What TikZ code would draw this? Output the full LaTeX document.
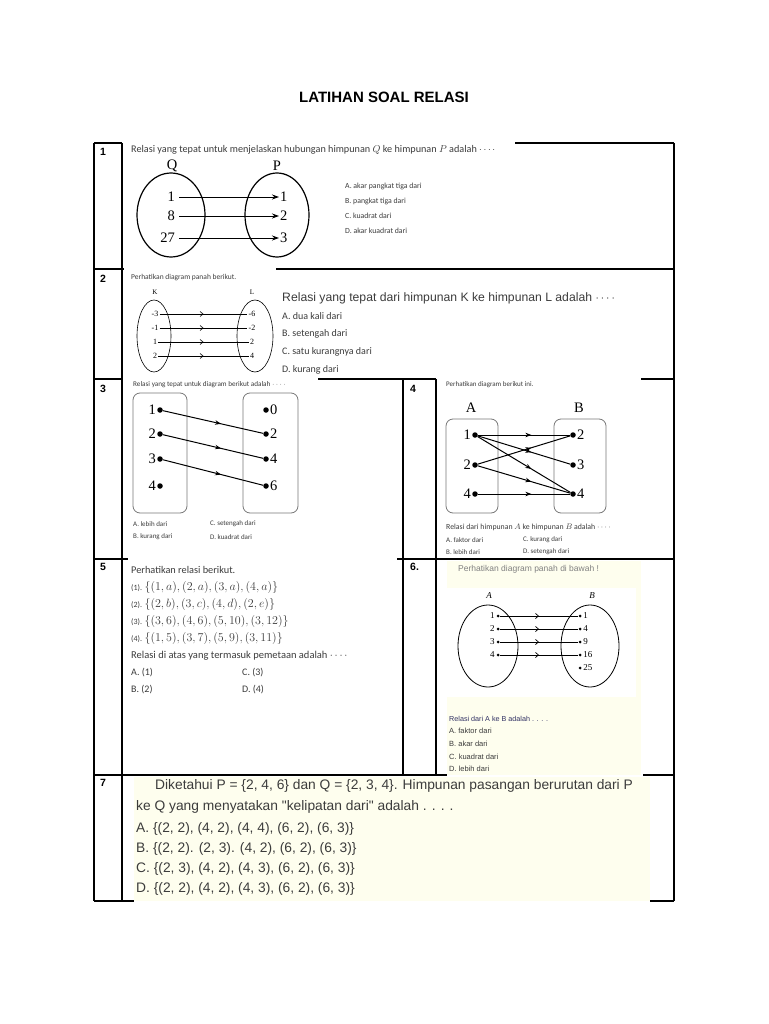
\documentclass[tikz,border=0pt]{standalone}
\usepackage{fontspec}
\setmainfont{Liberation Serif}
\newfontfamily\arialf{Liberation Sans}
\newfontfamily\calib{Carlito}
\usetikzlibrary{arrows.meta, decorations.markings}

\definecolor{cream}{RGB}{254,254,238}
\definecolor{txtgray}{RGB}{60,60,60}
\definecolor{boxgray}{RGB}{120,120,120}

\tikzset{
  grid line/.style={line width=1.1pt},
  qnum/.style={font=\arialf\bfseries\fontsize{10.5}{12}\selectfont, anchor=west, inner sep=0},
  scantxt/.style={font=\calib\fontsize{7.5}{9}\selectfont, text=txtgray, anchor=west, inner sep=0},
  bigtxt/.style={font=\arialf\fontsize{13.8}{16}\selectfont, text=txtgray, anchor=west, inner sep=0},
  serifbig/.style={font=\fontsize{14.5}{16}\selectfont, inner sep=1pt},
  dotpt/.style={circle, fill, inner sep=0, minimum size=5.5pt},
  smalldot/.style={circle, fill, inner sep=0, minimum size=3pt},
  midstealth/.style={postaction={decorate}, decoration={markings,
      mark=at position 0.58 with {\arrow{Stealth[length=6pt,width=4.5pt]}}}},
  midbarb/.style={postaction={decorate}, decoration={markings,
      mark=at position 0.5 with {\arrow{Straight Barb[length=3pt,width=5pt]}}}},
}

\begin{document}
\begin{tikzpicture}[x=1pt, y=-1pt]
\useasboundingbox (0,0) rectangle (768,1024);
\fill[white] (0,0) rectangle (768,1024);

% pasted backgrounds
\fill[cream] (447,561) rectangle (641,775);
\fill[white] (447,588) rectangle (636,697);
\fill[cream] (134,777) rectangle (650,901);

\node[font=\arialf\bfseries\fontsize{15}{17}\selectfont] (title) at (384,97) {LATIHAN SOAL RELASI};

% table
\draw[grid line] (94,143) -- (94,901);
\draw[grid line] (122,143) -- (122,901);
\draw[grid line] (674,143) -- (674,901);
\draw[grid line] (403,379) -- (403,775);
\draw[grid line] (436,379) -- (436,775);
\draw[grid line] (94,143) -- (122,143) (515,143) -- (674,143);
\draw[grid line] (94,269) -- (124,269) (276,269) -- (674,269);
\draw[grid line] (94,379) -- (123,379) (318,379) -- (436,379) (641,379) -- (674,379);
\draw[grid line] (94,559) -- (128,559) (397,559) -- (674,559);
\draw[grid line] (94,775) -- (447,775) (643,775) -- (674,775);
\draw[grid line] (94,901) -- (134,901) (650,901) -- (674,901);

\node[qnum] (n1) at (100,152) {1};
\node[qnum] (n2) at (100,279) {2};
\node[qnum] (n3) at (100,389) {3};
\node[qnum] (n4) at (410,389) {4};
\node[qnum] (n5) at (100,567) {5};
\node[qnum] (n6) at (410,567) {6.};
\node[qnum] (n7) at (100,783) {7};

% soal 1
\node[scantxt, font=\calib\fontsize{10.2}{12}\selectfont] (s1) at (131,150) {Relasi yang tepat untuk menjelaskan hubungan himpunan $Q$ ke himpunan $P$ adalah $\cdots\cdot$};
\node[serifbig] (Qlab) at (172,166) {Q};
\node[serifbig] (Plab) at (277,166) {P};
\draw[line width=1.2pt] (171,215) ellipse [x radius=34, y radius=42];
\draw[line width=1.2pt] (277,215) ellipse [x radius=32, y radius=42];
\node[serifbig, anchor=east] (q1) at (176,197) {1};
\node[serifbig, anchor=east] (q8) at (176,216) {8};
\node[serifbig, anchor=east] (q27) at (176,238) {27};
\node[serifbig, anchor=west] (p1) at (279,197) {1};
\node[serifbig, anchor=west] (p2) at (279,216) {2};
\node[serifbig, anchor=west] (p3) at (279,238) {3};
\foreach \a/\b in {q1/p1, q8/p2, q27/p3}
  \draw[line width=0.9pt, -{Stealth[length=7pt,width=5pt]}, shorten <=3pt] (\a) -- (\b);
\node[scantxt, font=\calib\fontsize{7.8}{9}\selectfont] (o1a) at (345,186) {A. akar pangkat tiga dari};
\node[scantxt, font=\calib\fontsize{7.8}{9}\selectfont] (o1b) at (345,201) {B. pangkat tiga dari};
\node[scantxt, font=\calib\fontsize{7.8}{9}\selectfont] (o1c) at (345,216) {C. kuadrat dari};
\node[scantxt, font=\calib\fontsize{7.8}{9}\selectfont] (o1d) at (345,231) {D. akar kuadrat dari};

% soal 2
\node[scantxt, font=\calib\fontsize{7.5}{9}\selectfont] (s2) at (131,278) {Perhatikan diagram panah berikut.};
\node[font=\fontsize{7}{8}\selectfont] (Klab) at (155,292) {K};
\node[font=\fontsize{7}{8}\selectfont] (Llab) at (252,292) {L};
\draw[line width=0.6pt] (154,336) ellipse [x radius=17, y radius=36];
\draw[line width=0.6pt] (255,336) ellipse [x radius=18, y radius=36];
\foreach \nm/\k/\l/\y in {ka/-3/-6/314, kb/-1/-2/328, kc/1/2/342, kd/2/4/356} {
  \node[font=\fontsize{8}{9}\selectfont, inner sep=1pt] (\nm) at (155,\y) {\k};
  \node[font=\fontsize{8}{9}\selectfont, inner sep=1pt] (\nm l) at (252,\y) {\l};
  \draw[line width=0.6pt, midbarb] (\nm) -- (\nm l);
}
\node[anchor=west, inner sep=0, font=\arialf\fontsize{12.2}{14}\selectfont, text=txtgray] (s2q) at (282,298) {Relasi yang tepat dari himpunan K ke himpunan L adalah $\cdots\cdot$};
\node[scantxt, font=\calib\fontsize{10}{12}\selectfont] (o2a) at (282,316) {A. dua kali dari};
\node[scantxt, font=\calib\fontsize{10}{12}\selectfont] (o2b) at (282,334) {B. setengah dari};
\node[scantxt, font=\calib\fontsize{10}{12}\selectfont] (o2c) at (282,352) {C. satu kurangnya dari};
\node[scantxt, font=\calib\fontsize{10}{12}\selectfont] (o2d) at (282,370) {D. kurang dari};

% soal 3
\node[scantxt, font=\calib\fontsize{7.2}{8}\selectfont] (s3) at (133,385) {Relasi yang tepat untuk diagram berikut adalah $\cdots\cdot$};
\draw[boxgray, line width=0.8pt, rounded corners=7] (133,393) rectangle (187,513);
\draw[boxgray, line width=0.8pt, rounded corners=7] (243,393) rectangle (298,513);
\foreach \nm/\t/\y in {a1/1/410, a2/2/434, a3/3/459, a4/4/486}
  \node[dotpt, label={[serifbig]left:\t}] (\nm) at (160,\y) {};
\foreach \nm/\t/\y in {b0/0/410, b2/2/434, b4/4/459, b6/6/486}
  \node[dotpt, label={[serifbig]right:\t}] (\nm) at (266,\y) {};
\foreach \a/\b in {a1/b2, a2/b4, a3/b6}
  \draw[line width=1pt, midstealth] (\a) -- (\b);
\node[scantxt, font=\calib\fontsize{7}{8}\selectfont] (o3a) at (133,524) {A. lebih dari};
\node[scantxt, font=\calib\fontsize{7}{8}\selectfont] (o3c) at (210,524) {C. setengah dari};
\node[scantxt, font=\calib\fontsize{7}{8}\selectfont] (o3b) at (133,537) {B. kurang dari};
\node[scantxt, font=\calib\fontsize{7}{8}\selectfont] (o3d) at (210,537) {D. kuadrat dari};

% soal 4
\node[scantxt, font=\calib\fontsize{7}{8}\selectfont] (s4) at (446,385) {Perhatikan diagram berikut ini.};
\node[serifbig] (Alab) at (471,408) {A};
\node[serifbig] (Blab) at (579,408) {B};
\draw[boxgray, line width=0.8pt, rounded corners=7] (446,419) rectangle (498,513);
\draw[boxgray, line width=0.8pt, rounded corners=7] (554,419) rectangle (606,513);
\foreach \nm/\t/\y in {c1/1/435, c2/2/465, c4/4/494}
  \node[dotpt, label={[serifbig]left:\t}] (\nm) at (475,\y) {};
\foreach \nm/\t/\y in {d2/2/435, d3/3/465, d4/4/494}
  \node[dotpt, label={[serifbig]right:\t}] (\nm) at (573,\y) {};
\foreach \a/\b in {c1/d2, c1/d3, c1/d4, c2/d2, c2/d4, c4/d4}
  \draw[line width=1pt, midstealth] (\a) -- (\b);
\node[scantxt, font=\calib\fontsize{7.8}{8}\selectfont] (s4q) at (446,527) {Relasi dari himpunan $A$ ke himpunan $B$ adalah $\cdots\cdot$};
\node[scantxt, font=\calib\fontsize{7}{8}\selectfont] (o4a) at (446,540) {A. faktor dari};
\node[scantxt, font=\calib\fontsize{7}{8}\selectfont] (o4c) at (523,540) {C. kurang dari};
\node[scantxt, font=\calib\fontsize{7}{8}\selectfont] (o4b) at (446,552) {B. lebih dari};
\node[scantxt, font=\calib\fontsize{7}{8}\selectfont] (o4d) at (523,552) {D. setengah dari};

% soal 5
\node[scantxt, font=\calib\fontsize{10.3}{12}\selectfont] (s5) at (131,570) {Perhatikan relasi berikut.};
\node[scantxt, font=\calib\fontsize{10}{12}\selectfont] (r1) at (131,587) {\fontsize{8}{9}\selectfont(1). \fontsize{11.5}{13}\selectfont$\{(1,a),(2,a),(3,a),(4,a)\}$};
\node[scantxt, font=\calib\fontsize{10}{12}\selectfont] (r2) at (131,604) {\fontsize{8}{9}\selectfont(2). \fontsize{11.5}{13}\selectfont$\{(2,b),(3,c),(4,d),(2,e)\}$};
\node[scantxt, font=\calib\fontsize{10}{12}\selectfont] (r3) at (131,621) {\fontsize{8}{9}\selectfont(3). \fontsize{11.5}{13}\selectfont$\{(3,6),(4,6),(5,10),(3,12)\}$};
\node[scantxt, font=\calib\fontsize{10}{12}\selectfont] (r4) at (131,638) {\fontsize{8}{9}\selectfont(4). \fontsize{11.5}{13}\selectfont$\{(1,5),(3,7),(5,9),(3,11)\}$};
\node[scantxt, font=\calib\fontsize{10.5}{12}\selectfont] (s5q) at (131,656) {Relasi di atas yang termasuk pemetaan adalah $\cdots\cdot$};
\node[scantxt, font=\calib\fontsize{10}{12}\selectfont] (o5a) at (131,673) {A. (1)};
\node[scantxt, font=\calib\fontsize{10}{12}\selectfont] (o5c) at (242,673) {C. (3)};
\node[scantxt, font=\calib\fontsize{10}{12}\selectfont] (o5b) at (131,690) {B. (2)};
\node[scantxt, font=\calib\fontsize{10}{12}\selectfont] (o5d) at (242,690) {D. (4)};

% soal 6
\node[anchor=west, inner sep=0, font=\arialf\fontsize{8.5}{10}\selectfont, text=gray] (s6) at (458,569) {Perhatikan diagram panah di bawah !};
\node[font=\itshape\fontsize{9}{10}\selectfont] (A6) at (489,596) {A};
\node[font=\itshape\fontsize{9}{10}\selectfont] (B6) at (592,596) {B};
\draw[line width=0.8pt] (488,646) ellipse [x radius=30, y radius=41];
\draw[line width=0.8pt] (590,646) ellipse [x radius=29, y radius=41];
\foreach \nm/\t/\y in {e1/1/616, e2/2/629, e3/3/642, e4/4/655}
  \node[smalldot, label={[font=\fontsize{9}{10}\selectfont, inner sep=1.5pt]left:\t}] (\nm) at (498,\y) {};
\foreach \nm/\t/\y in {f1/1/616, f4/4/629, f9/9/642, f16/16/655, f25/25/668}
  \node[smalldot, label={[font=\fontsize{9}{10}\selectfont, inner sep=1.5pt]right:\t}] (\nm) at (580,\y) {};
\foreach \a/\b in {e1/f1, e2/f4, e3/f9, e4/f16}
  \draw[line width=0.7pt, midbarb] (\a) -- (\b);
\node[anchor=west, inner sep=0, font=\arialf\fontsize{7.2}{9}\selectfont, text=txtgray!80!blue] (s6q) at (449,719) {Relasi dari A ke B adalah . . . .};
\node[anchor=west, inner sep=0, font=\arialf\fontsize{7.5}{9}\selectfont, text=txtgray] (o6a) at (449,731) {A. faktor dari};
\node[anchor=west, inner sep=0, font=\arialf\fontsize{7.5}{9}\selectfont, text=txtgray] (o6b) at (449,744) {B. akar dari};
\node[anchor=west, inner sep=0, font=\arialf\fontsize{7.5}{9}\selectfont, text=txtgray] (o6c) at (449,757) {C. kuadrat dari};
\node[anchor=west, inner sep=0, font=\arialf\fontsize{7.5}{9}\selectfont, text=txtgray] (o6d) at (449,769) {D. lebih dari};

% soal 7
\node[bigtxt] (s7a) at (155,786) {Diketahui P = \{2, 4, 6\} dan Q = \{2, 3, 4\}. Himpunan pasangan berurutan dari P};
\node[bigtxt] (s7b) at (136,807) {ke Q yang menyatakan "kelipatan dari" adalah . . . .};
\node[bigtxt] (o7a) at (136,829) {A. \{(2, 2), (4, 2), (4, 4), (6, 2), (6, 3)\}};
\node[bigtxt] (o7b) at (136,849) {B. \{(2, 2). (2, 3). (4, 2), (6, 2), (6, 3)\}};
\node[bigtxt] (o7c) at (136,869) {C. \{(2, 3), (4, 2), (4, 3), (6, 2), (6, 3)\}};
\node[bigtxt] (o7d) at (136,889) {D. \{(2, 2), (4, 2), (4, 3), (6, 2), (6, 3)\}};
\end{tikzpicture}
\end{document}
